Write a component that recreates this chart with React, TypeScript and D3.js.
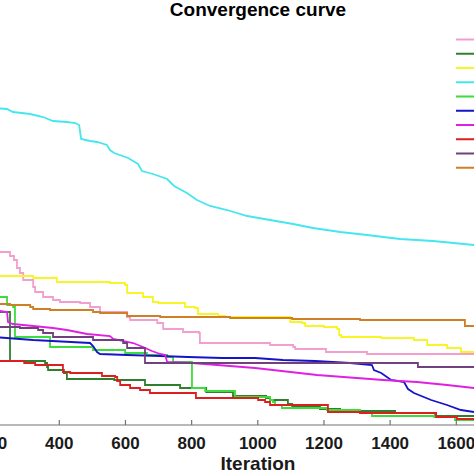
import React, { useEffect, useRef } from "react";
import * as d3 from "d3";

// best-so-far fitness per iteration, one pair of arrays per algorithm
const pinkIter = [200, 251, 263, 272, 281, 291, 321, 327, 351, 381, 402, 463, 493, 523, 605, 614, 696, 714, 774, 822, 825, 1037, 1107, 1113, 1206, 1330, 1700];
const pinkVal = [173, 169, 165, 157, 152, 145, 138, 133, 128, 125, 123, 122, 118, 113, 108, 105, 102, 96, 93, 92, 82, 80, 78, 76, 73, 71, 71];

const darkGreenIter = [200, 251, 357, 363, 366, 414, 423, 566, 659, 765, 844, 925, 1025, 1037, 1091, 1104, 1188, 1249, 1415, 1536, 1700];
const darkGreenVal = [113, 64, 62, 58, 55, 52, 46, 45, 40, 37, 33, 29, 27, 25, 21, 18, 16, 14, 12, 9, 9];

const yellowIter = [200, 321, 393, 553, 599, 605, 653, 683, 699, 780, 810, 819, 880, 901, 1098, 1134, 1143, 1200, 1240, 1246, 1252, 1373, 1472, 1512, 1572, 1614, 1700];
const yellowVal = [149, 147, 143, 142, 140, 132, 128, 123, 122, 118, 117, 111, 109, 108, 103, 102, 99, 98, 96, 90, 88, 87, 85, 80, 77, 73, 73];

const cyanIter = [200, 242, 260, 312, 351, 381, 423, 448, 460, 466, 493, 514, 544, 553, 566, 608, 638, 650, 683, 726, 747, 786, 816, 856, 907, 968, 1037, 1107, 1167, 1249, 1330, 1430, 1530, 1654, 1700];
const cyanVal = [317, 316, 313, 311, 308, 304, 303, 302, 300, 286, 284, 283, 280, 275, 272, 267, 261, 254, 251, 246, 239, 232, 225, 219, 215, 209, 205, 201, 197, 193, 190, 186, 184, 180, 179];

const greenIter = [200, 242, 260, 266, 372, 502, 599, 665, 726, 744, 801, 841, 931, 1037, 1046, 1052, 1073, 1209, 1309, 1345, 1533, 1596, 1700];
const greenVal = [128, 120, 118, 88, 78, 75, 72, 70, 68, 63, 37, 34, 28, 25, 23, 20, 17, 15, 12, 9, 8, 5, 5];

const blueIter = [200, 321, 493, 502, 514, 523, 605, 705, 789, 892, 992, 1076, 1173, 1279, 1345, 1351, 1373, 1403, 1442, 1454, 1472, 1524, 1572, 1614, 1654, 1700];
const blueVal = [88, 85, 82, 79, 73, 71, 70, 69, 68, 67, 67, 65, 64, 62, 60, 55, 52, 45, 43, 36, 32, 25, 20, 15, 13, 12];

const magentaIter = [200, 242, 245, 260, 321, 381, 423, 484, 553, 563, 623, 653, 680, 705, 720, 726, 801, 992, 1179, 1379, 1481, 1572, 1654, 1700];
const magentaVal = [115, 113, 103, 101, 99, 97, 95, 91, 89, 86, 82, 78, 74, 71, 70, 63, 62, 57, 50, 45, 43, 40, 37, 36];

const redIter = [200, 294, 327, 411, 433, 529, 569, 575, 584, 614, 644, 674, 813, 1001, 1022, 1037, 1212, 1309, 1539, 1602, 1700];
const redVal = [64, 62, 60, 53, 52, 49, 48, 44, 40, 37, 35, 32, 27, 25, 23, 20, 13, 12, 8, 6, 6];

const purpleIter = [200, 281, 336, 351, 381, 502, 593, 605, 659, 1484, 1700];
const purpleVal = [98, 97, 95, 92, 88, 85, 82, 77, 62, 58, 58];

const orangeIter = [200, 251, 312, 321, 372, 502, 523, 605, 705, 916, 1104, 1309, 1626, 1700];
const orangeVal = [121, 120, 118, 116, 115, 113, 112, 109, 108, 107, 106, 105, 99, 99];

const xTicks = [200, 400, 600, 800, 1000, 1200, 1400, 1600, 1800];

const colors = [
  "#f29fd0",
  "#2f7f2f",
  "#f7f526",
  "#45e6ee",
  "#3ddc3d",
  "#1414c8",
  "#e020e0",
  "#dd1f1f",
  "#70407f",
  "#cf7f26",
];

interface ISeries {
  iter: number[];
  val: number[];
  step: boolean;
}

const series: ISeries[] = [
  { iter: pinkIter, val: pinkVal, step: true },
  { iter: darkGreenIter, val: darkGreenVal, step: true },
  { iter: yellowIter, val: yellowVal, step: true },
  { iter: cyanIter, val: cyanVal, step: false },
  { iter: greenIter, val: greenVal, step: true },
  { iter: blueIter, val: blueVal, step: false },
  { iter: magentaIter, val: magentaVal, step: false },
  { iter: redIter, val: redVal, step: true },
  { iter: purpleIter, val: purpleVal, step: true },
  { iter: orangeIter, val: orangeVal, step: true },
];

const W = 474;
const H = 474;
const FONT = "'Liberation Sans', Arial, Helvetica, sans-serif";

function App() {
  const ref = useRef<SVGSVGElement | null>(null);

  useEffect(() => {
    const svg = d3.select(ref.current);
    svg.selectAll("*").remove();

    const xScale = d3.scaleLinear().domain([400, 1600]).range([59.3, 456.3]);
    const yScale = d3.scaleLinear().domain([0, 400]).range([425, 25]);
    const axisY = yScale(0);

    // title
    svg
      .append("text")
      .attr("x", 258)
      .attr("y", 16)
      .attr("text-anchor", "middle")
      .attr("font-family", FONT)
      .attr("font-weight", "bold")
      .attr("font-size", 19)
      .attr("fill", "#000")
      .text("Convergence curve");

    // curves
    series.forEach((s, i) => {
      const pts: [number, number][] = s.iter.map((it, j) => [it, s.val[j]]);
      const line = d3
        .line<[number, number]>()
        .x((d) => xScale(d[0]))
        .y((d) => yScale(d[1]))
        .curve(s.step ? d3.curveStepAfter : d3.curveLinear);
      svg
        .append("path")
        .datum(pts)
        .attr("d", line)
        .attr("fill", "none")
        .attr("stroke", colors[i])
        .attr("stroke-width", 1.8);
    });

    // bottom axis
    svg
      .append("line")
      .attr("x1", 0)
      .attr("x2", W)
      .attr("y1", axisY)
      .attr("y2", axisY)
      .attr("stroke", "#737373")
      .attr("stroke-width", 1.2);

    xTicks.forEach((t) => {
      const x = xScale(t);
      svg
        .append("line")
        .attr("x1", x)
        .attr("x2", x)
        .attr("y1", axisY)
        .attr("y2", axisY - 5)
        .attr("stroke", "#737373")
        .attr("stroke-width", 1.2);
      svg
        .append("text")
        .attr("x", x)
        .attr("y", 449)
        .attr("text-anchor", "middle")
        .attr("font-family", FONT)
        .attr("font-weight", "bold")
        .attr("font-size", 17)
        .attr("fill", "#1a1a1a")
        .text(t.toString());
    });

    svg
      .append("text")
      .attr("x", 258)
      .attr("y", 470)
      .attr("text-anchor", "middle")
      .attr("font-family", FONT)
      .attr("font-weight", "bold")
      .attr("font-size", 19)
      .attr("fill", "#1a1a1a")
      .text("Iteration");

    // legend samples
    colors.forEach((c, i) => {
      const y = 39.5 + i * 14.25;
      svg
        .append("line")
        .attr("x1", 456)
        .attr("x2", 500)
        .attr("y1", y)
        .attr("y2", y)
        .attr("stroke", c)
        .attr("stroke-width", 1.8);
    });

    return () => {
      svg.selectAll("*").remove();
    };
  }, []);

  return (
    <svg
      ref={ref}
      width={W}
      height={H}
      style={{ position: "absolute", left: 0, top: 0, background: "#fff", display: "block" }}
    />
  );
}

export default App;
